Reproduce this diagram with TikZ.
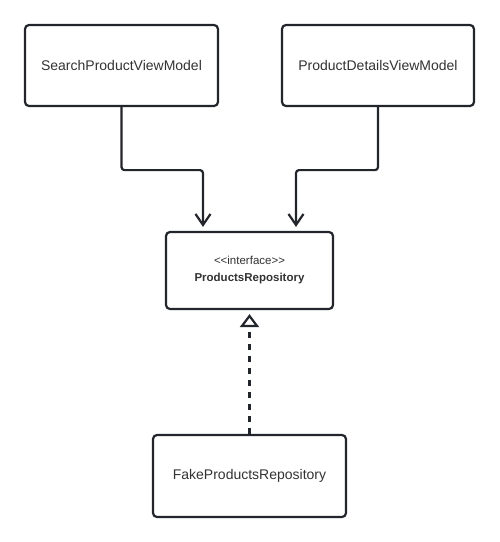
\documentclass[tikz,border=0pt]{standalone}
\usepackage{fontspec}
\setmainfont{Liberation Sans}
\usetikzlibrary{arrows.meta,calc,positioning}
\definecolor{linegray}{HTML}{22252B}
\definecolor{textgray}{HTML}{333333}

\begin{document}
\begin{tikzpicture}[
        x=1pt, y=-1pt,
        class box/.style={draw=linegray, line width=2.2pt, rounded corners=4pt,
            fill=white, text=textgray, align=center, inner sep=0pt,
            font=\fontsize{14}{17}\selectfont},
        uses/.style={draw=linegray, line width=2.2pt, rounded corners=3pt,
            -{Straight Barb[length=11pt, width=15pt, line width=2.2pt]}, shorten >=4pt},
        realizes/.style={draw=linegray, line width=2.2pt, dash pattern=on 6pt off 6pt,
            -{Triangle[open, length=13pt, width=19pt, line width=2.2pt, fill=white]},
            shorten >=4pt}
    ]
    \useasboundingbox (0,0) rectangle (500,542);
    \node[class box, minimum width=193pt, minimum height=81pt] (search) at (121.5,65.5) {SearchProductViewModel};
    \node[class box, minimum width=192pt, minimum height=81pt] (details) at (378,65.5) {ProductDetailsViewModel};
    \node[class box, minimum width=167pt, minimum height=77pt] (repo) at (249.5,270.5)
        {{\fontsize{11.5}{13}\selectfont {<}{<}interface{>}{>}}\\[0pt]{\fontsize{11.5}{14}\selectfont\bfseries ProductsRepository}};
    \node[class box, minimum width=193pt, minimum height=82pt] (fake) at (249.5,476) {FakeProductsRepository};

    % view models depend on the interface
    \draw[uses] (search.south) -- ++(0,63) -| ([xshift=-46.5pt]repo.north);
    \draw[uses] (details.south) -- ++(0,63) -| ([xshift=46.5pt]repo.north);
    % the fake implements it
    \draw[realizes] (fake.north) -- (repo.south);
\end{tikzpicture}
\end{document}
